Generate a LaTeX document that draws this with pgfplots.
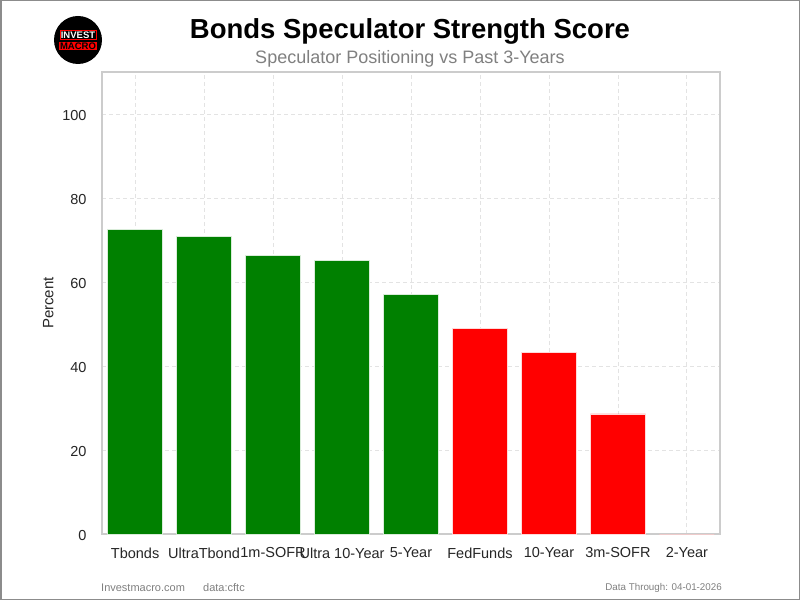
\documentclass[border=0pt]{standalone}
\usepackage{pgfplots}
\pgfplotsset{compat=1.18}
\usepackage{fontspec}
\setmainfont{Liberation Sans}
\definecolor{barg}{HTML}{008000}
\definecolor{barr}{HTML}{FF0000}
\definecolor{gridc}{HTML}{E3E3E3}
\definecolor{framec}{HTML}{CCCCCC}
\definecolor{subc}{HTML}{808080}
\begin{document}
\begin{tikzpicture}[x=1pt,y=1pt]
  % page frame
  \fill[white] (0,0) rectangle (800,600);
  \draw[color=gray!90, line width=1.5pt] (0.75,0.75) rectangle (799.25,599.25);
  \begin{axis}[
      at={(102pt,66pt)}, anchor=south west,
      width=618pt, height=462pt, scale only axis,
      xmin=-0.48, xmax=8.48, ymin=0, ymax=110,
      ybar, bar width=0.8, bar shift=0pt,
      xtick={0,...,8},
      xticklabels={Tbonds,UltraTbond,1m-SOFR,Ultra 10-Year,5-Year,FedFunds,10-Year,3m-SOFR,2-Year},
      ytick={0,20,40,60,80,100},
      major tick length=0pt,
      grid=major,
      major grid style={gridc, dash pattern=on 4pt off 3pt, line width=0.8pt},
      axis line style={framec, line width=1.5pt},
      ticklabel style={font=\fontsize{14.5}{17}\selectfont, text=black!85},
      xticklabel style={yshift=-10pt},
      yticklabel style={xshift=-12pt, yshift=-1.5pt},
      ylabel={Percent},
      ylabel style={font=\fontsize{15}{18}\selectfont, text=black!85, yshift=2pt},
      /pgf/number format/assume math mode=true,
    ]
    \addplot[fill=barg, draw=white!85!barg, line width=0.6pt] coordinates {
      (0,72.5) (1,70.9) (2,66.3) (3,65.2) (4,57.0)
    };
    \addplot[fill=barr, draw=white!85!barr, line width=0.6pt] coordinates {
      (5,48.9) (6,43.2) (7,28.6) (8,0)
    };
  \end{axis}
  % titles
  \node[font=\fontsize{27.5}{32}\selectfont\bfseries] at (410,569) {Bonds Speculator Strength Score};
  \node[font=\fontsize{18}{21}\selectfont, text=subc] at (410,541) {Speculator Positioning vs Past 3-Years};
  % logo
  \fill[black] (78,560) circle (24);
  \node[fill=black, draw=barr, line width=0.8pt, inner sep=0.8pt, text=white,
        font=\fontsize{9.5}{9.5}\selectfont\bfseries] at (78,565) {INVEST};
  \node[fill=barr, inner sep=0.8pt, text=black,
        font=\fontsize{9.5}{9.5}\selectfont\bfseries] at (78,554) {MACRO};
  % footer
  \node[anchor=west, inner sep=0pt, font=\fontsize{11}{13}\selectfont, text=subc] at (101,12) {Investmacro.com};
  \node[anchor=west, inner sep=0pt, font=\fontsize{11}{13}\selectfont, text=subc] at (203,12) {data:cftc};
  \node[anchor=east, inner sep=0pt, font=\fontsize{9.8}{12}\selectfont, text=subc] at (722,12) {Data Through: 04-01-2026};
\end{tikzpicture}
\end{document}
